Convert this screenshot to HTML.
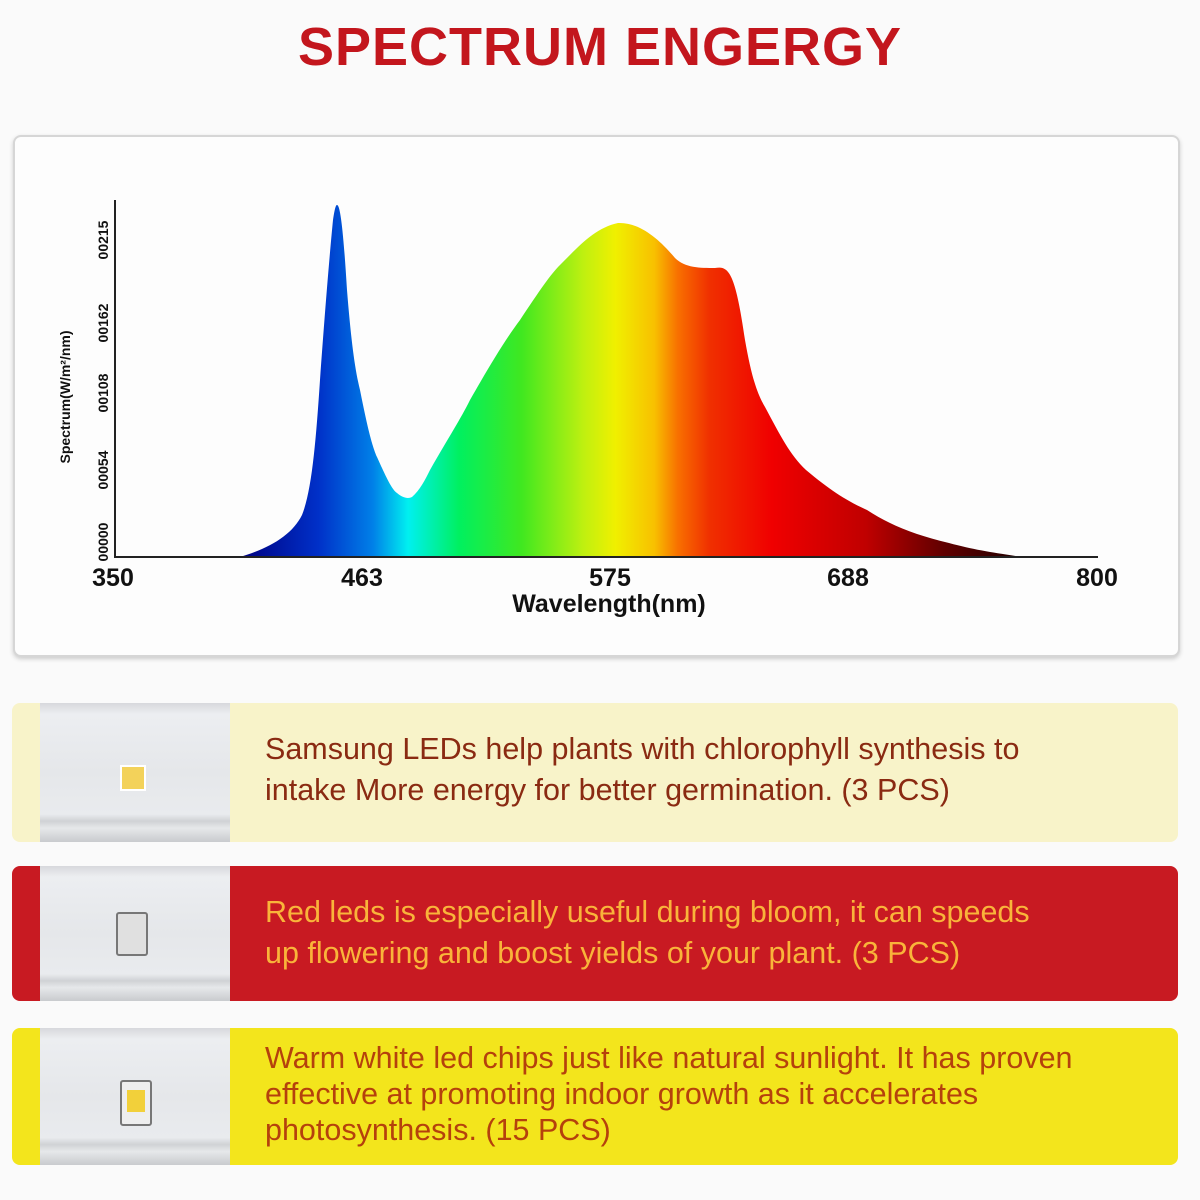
<!DOCTYPE html>
<html><head><meta charset="utf-8"><style>
body{margin:0;width:1200px;height:1200px;background:#fafafa;position:relative;overflow:hidden;font-family:"Liberation Sans",sans-serif}
.title{position:absolute;top:16px;left:0;width:1200px;text-align:center;font-size:54px;font-weight:bold;color:#c3161d;letter-spacing:1px}
.panel{position:absolute;left:13px;top:135px;width:1163px;height:518px;background:#fdfdfd;border:2px solid #d6d6d6;border-radius:8px;box-shadow:0 2px 4px #ccc}
.box{position:absolute;left:12px;width:1166px;border-radius:8px}
.img{position:absolute;left:28px;top:0;width:190px;height:100%;background:linear-gradient(#d7d8dc 0%,#eceef1 8%,#e5e7ea 50%,#e9ebee 80%,#d0d2d5 85%,#e6e8ea 90%,#c9cbce 100%)}
.txt{position:absolute;left:253px;font-size:30.5px;line-height:41px;white-space:nowrap}
</style></head><body>
<div class="title">SPECTRUM ENGERGY</div>
<div class="panel"></div>
<svg style="position:absolute;left:0;top:0" width="1200" height="660">
<defs><linearGradient id="g" x1="240" x2="1022" y1="0" y2="0" gradientUnits="userSpaceOnUse">
<stop offset="0" stop-color="#000080"/>
<stop offset="0.1" stop-color="#0030c8"/>
<stop offset="0.17" stop-color="#0080e8"/>
<stop offset="0.215" stop-color="#00f0f0"/>
<stop offset="0.28" stop-color="#00f060"/>
<stop offset="0.36" stop-color="#40e820"/>
<stop offset="0.44" stop-color="#c0f010"/>
<stop offset="0.48" stop-color="#f0f000"/>
<stop offset="0.53" stop-color="#f8c000"/>
<stop offset="0.56" stop-color="#f87000"/>
<stop offset="0.6" stop-color="#f03000"/>
<stop offset="0.68" stop-color="#f00000"/>
<stop offset="0.8" stop-color="#c00000"/>
<stop offset="0.9" stop-color="#600000"/>
<stop offset="1" stop-color="#200000"/>
</linearGradient></defs>
<path fill="url(#g)" d="M240,557 C270,548 292,535 302,515 C312,490 316,440 320,380 C325,310 330,250 333,220 C335,207 336,205 337,205 C340,205 343,225 347,290 C351,340 355,370 360,390 C368,430 372,445 377,457 C385,475 392,490 397,493 C403,498 408,499 412,497 C420,490 425,480 430,470 C450,435 460,420 470,400 C490,365 505,340 520,320 C540,290 550,275 560,265 C580,245 595,228 618,223 C640,222 660,240 675,258 C685,268 700,268 715,268 C728,266 735,270 745,340 C752,380 758,395 765,407 C780,435 790,455 806,470 C830,490 845,500 867,510 C890,525 915,535 949,543 C975,550 990,552 1022,557 Z"/>
<g stroke="#222" stroke-width="2"><line x1="115" y1="200" x2="115" y2="558"/><line x1="114" y1="557" x2="1098" y2="557"/></g>
<g font-family="Liberation Sans" font-weight="bold" font-size="25" fill="#111" text-anchor="middle">
<text x="113" y="586">350</text><text x="362" y="586">463</text><text x="610" y="586">575</text><text x="848" y="586">688</text><text x="1097" y="586">800</text>
<text x="609" y="612">Wavelength(nm)</text></g>
<g font-family="Liberation Sans" font-weight="bold" font-size="14" fill="#111" text-anchor="middle">
<text transform="translate(108,240) rotate(-90)">00215</text>
<text transform="translate(108,323) rotate(-90)">00162</text>
<text transform="translate(108,393) rotate(-90)">00108</text>
<text transform="translate(108,470) rotate(-90)">00054</text>
<text transform="translate(108,542) rotate(-90)">00000</text>
<text transform="translate(70,397) rotate(-90)">Spectrum(W/m²/nm)</text></g>
</svg>
<div class="box" style="top:703px;height:139px;background:#f8f3c9">
 <div class="img"><div style="position:absolute;left:80px;top:62px;width:22px;height:22px;background:#f3d25a;border:2px solid #fff"></div></div>
 <div class="txt" style="top:26px;color:#8a2a12">Samsung LEDs help plants with chlorophyll synthesis to<br>intake More energy for better germination. (3 PCS)</div>
</div>
<div class="box" style="top:866px;height:135px;background:#c81a22">
 <div class="img"><div style="position:absolute;left:76px;top:46px;width:28px;height:40px;border:2px solid #777;border-radius:3px;background:#e0e0e0"></div></div>
 <div class="txt" style="top:26px;color:#f9b43a">Red leds is especially useful during bloom, it can speeds<br>up flowering and boost yields of your plant. (3 PCS)</div>
</div>
<div class="box" style="top:1028px;height:137px;background:#f3e51c">
 <div class="img"><div style="position:absolute;left:80px;top:52px;width:28px;height:42px;border:2px solid #777;border-radius:3px;background:#eee"><div style="margin:8px 5px;width:18px;height:22px;background:#f2d03a"></div></div></div>
 <div class="txt" style="top:12px;color:#b5410c;line-height:36px">Warm white led chips just like natural sunlight. It has proven<br>effective at promoting indoor growth as it accelerates<br>photosynthesis. (15 PCS)</div>
</div>
</body></html>
